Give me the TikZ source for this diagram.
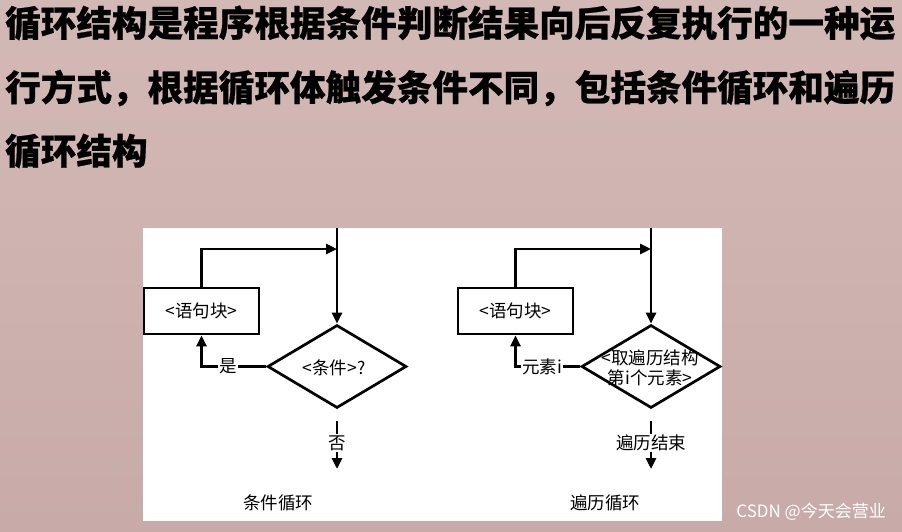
\documentclass[tikz,border=0pt]{standalone}
\usepackage{fontspec}
\newfontfamily\cjk{Noto Sans CJK SC}
\newfontfamily\cjkhead[BoldFeatures={FakeBold=0.6}]{Noto Sans CJK SC}
\usetikzlibrary{arrows.meta,shapes.geometric}
\definecolor{bgtop}{HTML}{D3B9B6}
\definecolor{bgbot}{HTML}{C8ABA9}
\begin{document}
\begin{tikzpicture}[x=1pt,y=-1pt,
  arr/.style={line width=2.7pt,-{Triangle[length=11pt,width=10pt]}},
  stmt/.style={draw,line width=2.7pt,minimum width=115pt,minimum height=46pt,inner sep=0pt,font=\cjk\fontsize{17.5}{20}\selectfont},
  dec/.style={draw,diamond,line width=2.7pt,minimum width=139pt,minimum height=83pt,inner sep=0pt},
  dtext/.style={font=\cjk\fontsize{17.5}{20}\selectfont,align=center,inner sep=0pt},
  lbl/.style={font=\cjk\fontsize{17.5}{20}\selectfont,fill=white,inner sep=1pt},
  captext/.style={font=\cjk\fontsize{17.5}{20}\selectfont,inner sep=0pt},
  titletext/.style={font=\cjkhead\bfseries\fontsize{35.6}{40}\selectfont,anchor=west,inner sep=0pt}]
\useasboundingbox (0,0) rectangle (902,531);
\shade[top color=bgtop,bottom color=bgbot] (0,0) rectangle (902,531);
% title
\node[titletext] (l1) at (5,23) {循环结构是程序根据条件判断结果向后反复执行的一种运};
\node[titletext] (l2) at (5,88) {行方式，根据循环体触发条件不同，包括条件循环和遍历};
\node[titletext] (l3) at (5,151) {循环结构};
% white panel
\fill[white] (143,228) rectangle (722,521);
% ---------- left flowchart ----------
\node[stmt] (b1) at (201.5,311) {<语句块>};
\node[dec] (d1) at (337,366.5) {};
\node[dtext] (t1) at (334,368) {<条件>?};
\coordinate (top1) at (337,228);
\coordinate (no1s) at (337,421);
\coordinate (no1e) at (337,469);
\draw[arr] (top1) -- (d1.north);
\draw[arr] (b1.north) |- (d1.north |- 0,249);
\draw[arr] (d1.west) -| (b1.south);
\node[lbl] (yes1) at (228,366) {是};
\draw[arr] (no1s) -- (no1e);
\node[lbl] (n1) at (337,443) {否};
\node[captext] (c1) at (278,503) {条件循环};
% ---------- right flowchart ----------
\node[stmt] (b2) at (515.5,311) {<语句块>};
\node[dec] (d2) at (651,366.5) {};
\node[dtext] (t2) at (650,368) {<取遍历结构\\第i个元素>};
\coordinate (top2) at (651,228);
\coordinate (no2s) at (651,421);
\coordinate (no2e) at (651,469);
\draw[arr] (top2) -- (d2.north);
\draw[arr] (b2.north) |- (d2.north |- 0,249);
\draw[arr] (d2.west) -| (b2.south);
\node[lbl] (yes2) at (542,367) {元素i};
\draw[arr] (no2s) -- (no2e);
\node[lbl] (n2) at (651,443) {遍历结束};
\node[captext] (c2) at (605,503) {遍历循环};
% watermark
\node[font=\cjk\fontsize{17}{20}\selectfont,text=white,anchor=east,inner sep=0pt] (wm) at (886,512) {CSDN @今天会营业};
\end{tikzpicture}
\end{document}
